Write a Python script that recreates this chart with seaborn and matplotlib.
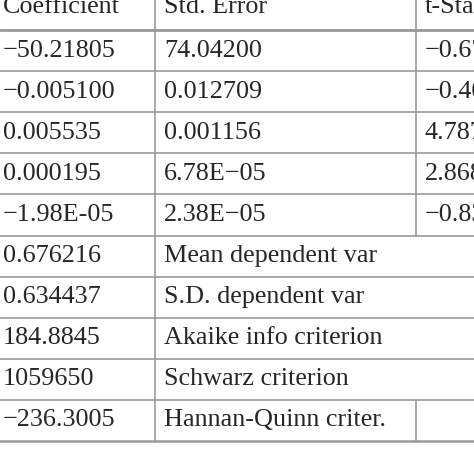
import matplotlib
matplotlib.use("Agg")
import matplotlib.pyplot as plt
import seaborn as sns

sns.set_style("white")
plt.rcParams['font.family'] = ['Liberation Serif', 'DejaVu Serif']

headers = ["Coefficient", "Std. Error", "t-Statistic"]
coef = ["−50.21805", "−0.005100", "0.005535", "0.000195", "−1.98E-05",
        "0.676216", "0.634437", "184.8845", "1059650", "−236.3005"]
stderr = ["74.04200", "0.012709", "0.001156", "6.78E−05", "2.38E−05",
          "Mean dependent var", "S.D. dependent var", "Akaike info criterion",
          "Schwarz criterion", "Hannan-Quinn criter."]
tstat = ["−0.678", "−0.401", "4.787", "2.868", "−0.832", "", "", "", "", ""]

fig = plt.figure(figsize=(4.74, 4.74), dpi=100)
ax = fig.add_axes([0, 0, 1, 1])
ax.set_xlim(0, 474)
ax.set_ylim(474, 0)
ax.axis("off")

line_c = "#999999"
top = 30
h = 41.1
col_x = [3, 164, 425]
fs = 18.8

for x, t in zip(col_x, headers):
    ax.text(x, top - h / 2 - 2, t, fontsize=fs, va="center", ha="left")
ax.axhline(top, color=line_c, lw=2.0)
for i, (a, b, c) in enumerate(zip(coef, stderr, tstat)):
    yc = top + h * (i + 0.5)
    ax.text(col_x[0], yc, a, fontsize=fs, va="center", ha="left")
    ax.text(col_x[1], yc, b, fontsize=fs, va="center", ha="left")
    if c:
        ax.text(col_x[2], yc, c, fontsize=fs, va="center", ha="left")
    ax.axhline(top + h * (i + 1), color=line_c, lw=1.2 if i < 9 else 1.8)

nrows = len(coef)
ax.plot([155, 155], [0, top + h * nrows], color=line_c, lw=1.2)
ax.plot([416, 416], [0, top + h * 5], color=line_c, lw=1.2)
ax.plot([416, 416], [top + h * 9, top + h * 10], color=line_c, lw=1.2)

fig.savefig("out.png", dpi=100)
